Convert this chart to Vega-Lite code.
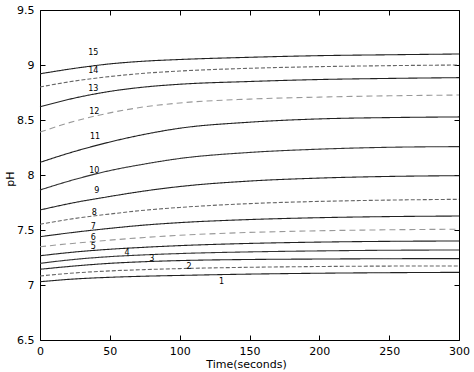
{
  "$schema": "https://vega.github.io/schema/vega-lite/v6.json",
  "width": 419,
  "height": 330,
  "autosize": {"type": "none"},
  "padding": {"left": 40, "top": 10, "right": 15, "bottom": 32},
  "background": "white",
  "config": {
    "view": {"stroke": "#000", "strokeWidth": 1},
    "font": "DejaVu Sans",
    "axis": {"grid": false, "domain": false, "tickColor": "#000", "tickSize": -5, "tickWidth": 1, "labelFont": "DejaVu Sans", "labelFontSize": 11, "labelColor": "#000", "titleFont": "DejaVu Sans", "titleFontSize": 11, "titleFontWeight": "normal", "titleColor": "#000"}
  },
  "datasets": {
    "curves": [
      {"curve": 15, "t": 0, "pH": 8.92}, {"curve": 15, "t": 25, "pH": 8.97}, {"curve": 15, "t": 50, "pH": 9.01}, {"curve": 15, "t": 75, "pH": 9.035}, {"curve": 15, "t": 100, "pH": 9.05}, {"curve": 15, "t": 150, "pH": 9.07}, {"curve": 15, "t": 200, "pH": 9.085}, {"curve": 15, "t": 250, "pH": 9.093}, {"curve": 15, "t": 300, "pH": 9.1},
      {"curve": 14, "t": 0, "pH": 8.8}, {"curve": 14, "t": 25, "pH": 8.855}, {"curve": 14, "t": 50, "pH": 8.895}, {"curve": 14, "t": 75, "pH": 8.925}, {"curve": 14, "t": 100, "pH": 8.945}, {"curve": 14, "t": 150, "pH": 8.97}, {"curve": 14, "t": 200, "pH": 8.985}, {"curve": 14, "t": 250, "pH": 8.994}, {"curve": 14, "t": 300, "pH": 9.0},
      {"curve": 13, "t": 0, "pH": 8.62}, {"curve": 13, "t": 25, "pH": 8.7}, {"curve": 13, "t": 50, "pH": 8.76}, {"curve": 13, "t": 75, "pH": 8.8}, {"curve": 13, "t": 100, "pH": 8.825}, {"curve": 13, "t": 150, "pH": 8.85}, {"curve": 13, "t": 200, "pH": 8.868}, {"curve": 13, "t": 250, "pH": 8.878}, {"curve": 13, "t": 300, "pH": 8.885},
      {"curve": 12, "t": 0, "pH": 8.39}, {"curve": 12, "t": 25, "pH": 8.49}, {"curve": 12, "t": 50, "pH": 8.565}, {"curve": 12, "t": 75, "pH": 8.62}, {"curve": 12, "t": 100, "pH": 8.655}, {"curve": 12, "t": 150, "pH": 8.69}, {"curve": 12, "t": 200, "pH": 8.708}, {"curve": 12, "t": 250, "pH": 8.72}, {"curve": 12, "t": 300, "pH": 8.727},
      {"curve": 11, "t": 0, "pH": 8.115}, {"curve": 11, "t": 25, "pH": 8.215}, {"curve": 11, "t": 50, "pH": 8.3}, {"curve": 11, "t": 75, "pH": 8.37}, {"curve": 11, "t": 100, "pH": 8.425}, {"curve": 11, "t": 150, "pH": 8.48}, {"curve": 11, "t": 200, "pH": 8.51}, {"curve": 11, "t": 250, "pH": 8.522}, {"curve": 11, "t": 300, "pH": 8.528},
      {"curve": 10, "t": 0, "pH": 7.864}, {"curve": 10, "t": 25, "pH": 7.96}, {"curve": 10, "t": 50, "pH": 8.04}, {"curve": 10, "t": 75, "pH": 8.1}, {"curve": 10, "t": 100, "pH": 8.15}, {"curve": 10, "t": 150, "pH": 8.205}, {"curve": 10, "t": 200, "pH": 8.235}, {"curve": 10, "t": 250, "pH": 8.252}, {"curve": 10, "t": 300, "pH": 8.258},
      {"curve": 9, "t": 0, "pH": 7.682}, {"curve": 9, "t": 25, "pH": 7.75}, {"curve": 9, "t": 50, "pH": 7.805}, {"curve": 9, "t": 75, "pH": 7.855}, {"curve": 9, "t": 100, "pH": 7.895}, {"curve": 9, "t": 150, "pH": 7.945}, {"curve": 9, "t": 200, "pH": 7.972}, {"curve": 9, "t": 250, "pH": 7.987}, {"curve": 9, "t": 300, "pH": 7.994},
      {"curve": 8, "t": 0, "pH": 7.552}, {"curve": 8, "t": 25, "pH": 7.605}, {"curve": 8, "t": 50, "pH": 7.645}, {"curve": 8, "t": 75, "pH": 7.68}, {"curve": 8, "t": 100, "pH": 7.705}, {"curve": 8, "t": 150, "pH": 7.74}, {"curve": 8, "t": 200, "pH": 7.76}, {"curve": 8, "t": 250, "pH": 7.772}, {"curve": 8, "t": 300, "pH": 7.779},
      {"curve": 7, "t": 0, "pH": 7.439}, {"curve": 7, "t": 25, "pH": 7.48}, {"curve": 7, "t": 50, "pH": 7.515}, {"curve": 7, "t": 75, "pH": 7.545}, {"curve": 7, "t": 100, "pH": 7.567}, {"curve": 7, "t": 150, "pH": 7.595}, {"curve": 7, "t": 200, "pH": 7.612}, {"curve": 7, "t": 250, "pH": 7.622}, {"curve": 7, "t": 300, "pH": 7.627},
      {"curve": 6, "t": 0, "pH": 7.348}, {"curve": 6, "t": 25, "pH": 7.38}, {"curve": 6, "t": 50, "pH": 7.408}, {"curve": 6, "t": 75, "pH": 7.432}, {"curve": 6, "t": 100, "pH": 7.452}, {"curve": 6, "t": 150, "pH": 7.478}, {"curve": 6, "t": 200, "pH": 7.493}, {"curve": 6, "t": 250, "pH": 7.502}, {"curve": 6, "t": 300, "pH": 7.507},
      {"curve": 5, "t": 0, "pH": 7.266}, {"curve": 5, "t": 25, "pH": 7.3}, {"curve": 5, "t": 50, "pH": 7.325}, {"curve": 5, "t": 75, "pH": 7.343}, {"curve": 5, "t": 100, "pH": 7.358}, {"curve": 5, "t": 150, "pH": 7.378}, {"curve": 5, "t": 200, "pH": 7.39}, {"curve": 5, "t": 250, "pH": 7.397}, {"curve": 5, "t": 300, "pH": 7.4},
      {"curve": 4, "t": 0, "pH": 7.197}, {"curve": 4, "t": 25, "pH": 7.233}, {"curve": 4, "t": 50, "pH": 7.258}, {"curve": 4, "t": 75, "pH": 7.274}, {"curve": 4, "t": 100, "pH": 7.286}, {"curve": 4, "t": 150, "pH": 7.301}, {"curve": 4, "t": 200, "pH": 7.31}, {"curve": 4, "t": 250, "pH": 7.316}, {"curve": 4, "t": 300, "pH": 7.318},
      {"curve": 3, "t": 0, "pH": 7.143}, {"curve": 3, "t": 25, "pH": 7.173}, {"curve": 3, "t": 50, "pH": 7.197}, {"curve": 3, "t": 75, "pH": 7.212}, {"curve": 3, "t": 100, "pH": 7.222}, {"curve": 3, "t": 150, "pH": 7.232}, {"curve": 3, "t": 200, "pH": 7.236}, {"curve": 3, "t": 250, "pH": 7.239}, {"curve": 3, "t": 300, "pH": 7.24},
      {"curve": 2, "t": 0, "pH": 7.082}, {"curve": 2, "t": 25, "pH": 7.11}, {"curve": 2, "t": 50, "pH": 7.128}, {"curve": 2, "t": 75, "pH": 7.14}, {"curve": 2, "t": 100, "pH": 7.149}, {"curve": 2, "t": 150, "pH": 7.161}, {"curve": 2, "t": 200, "pH": 7.168}, {"curve": 2, "t": 250, "pH": 7.172}, {"curve": 2, "t": 300, "pH": 7.173},
      {"curve": 1, "t": 0, "pH": 7.03}, {"curve": 1, "t": 25, "pH": 7.055}, {"curve": 1, "t": 50, "pH": 7.07}, {"curve": 1, "t": 75, "pH": 7.08}, {"curve": 1, "t": 100, "pH": 7.087}, {"curve": 1, "t": 150, "pH": 7.099}, {"curve": 1, "t": 200, "pH": 7.107}, {"curve": 1, "t": 250, "pH": 7.112}, {"curve": 1, "t": 300, "pH": 7.115}
    ],
    "labels": [
      {"label": "15", "t": 38.2, "pH": 9.106},
      {"label": "14", "t": 38.2, "pH": 8.945},
      {"label": "13", "t": 38.2, "pH": 8.779},
      {"label": "12", "t": 38.9, "pH": 8.575},
      {"label": "11", "t": 39.4, "pH": 8.348},
      {"label": "10", "t": 38.9, "pH": 8.036},
      {"label": "9", "t": 40.6, "pH": 7.855},
      {"label": "8", "t": 38.9, "pH": 7.657},
      {"label": "7", "t": 38.2, "pH": 7.53},
      {"label": "6", "t": 38.2, "pH": 7.43},
      {"label": "5", "t": 38.2, "pH": 7.348},
      {"label": "4", "t": 62.3, "pH": 7.294},
      {"label": "3", "t": 80, "pH": 7.234},
      {"label": "2", "t": 106.7, "pH": 7.166},
      {"label": "1", "t": 130, "pH": 7.03}
    ]
  },
  "layer": [
    {
      "data": {"name": "curves"},
      "mark": {"type": "line", "strokeWidth": 1.1, "interpolate": "monotone"},
      "encoding": {
        "x": {"field": "t", "type": "quantitative", "scale": {"domain": [0, 300], "nice": false}, "axis": {"orient": "bottom", "values": [0, 50, 100, 150, 200, 250, 300], "labelPadding": 10, "title": "Time(seconds)", "titleBaseline": "alphabetic", "titleX": 206, "titleY": 27, "labelFlush": false}},
        "y": {"field": "pH", "type": "quantitative", "scale": {"domain": [6.5, 9.5], "nice": false, "zero": false}, "axis": {"orient": "left", "values": [6.5, 7, 7.5, 8, 8.5, 9, 9.5], "format": "~g", "labelPadding": 11, "title": "pH", "titleBaseline": "middle", "titleAngle": -90, "titleX": -30, "titleY": 168.5, "labelFlush": false}},
        "detail": {"field": "curve", "type": "nominal"},
        "color": {"field": "curve", "type": "nominal", "legend": null, "scale": {"domain": [1, 2, 3, 4, 5, 6, 7, 8, 9, 10, 11, 12, 13, 14, 15], "range": ["#222", "#666", "#222", "#333", "#222", "#999", "#222", "#666", "#222", "#333", "#222", "#999", "#222", "#666", "#222"]}},
        "strokeDash": {"field": "curve", "type": "nominal", "legend": null, "scale": {"domain": [1, 2, 3, 4, 5, 6, 7, 8, 9, 10, 11, 12, 13, 14, 15], "range": [[1, 0], [4, 2], [1, 0], [1, 0], [1, 0], [6, 4], [1, 0], [4, 2], [1, 0], [1, 0], [1, 0], [6, 4], [1, 0], [4, 2], [1, 0]]}}
      }
    },
    {
      "data": {"name": "labels"},
      "mark": {"type": "text", "fontSize": 8, "font": "DejaVu Sans", "color": "#000", "baseline": "middle", "align": "center"},
      "encoding": {
        "x": {"field": "t", "type": "quantitative", "axis": {"orient": "top", "values": [0, 50, 100, 150, 200, 250, 300], "labels": false, "title": null}},
        "y": {"field": "pH", "type": "quantitative", "axis": {"orient": "right", "values": [6.5, 7, 7.5, 8, 8.5, 9, 9.5], "labels": false, "title": null}},
        "text": {"field": "label"}
      }
    }
  ],
  "resolve": {"axis": {"x": "independent", "y": "independent"}}
}
